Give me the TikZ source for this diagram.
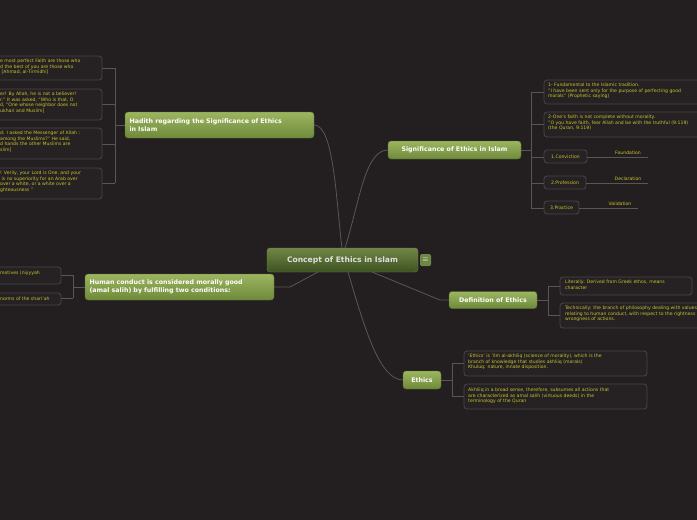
\documentclass[tikz,border=0pt]{standalone}
\usepackage{fontspec}
\setmainfont{DejaVu Sans}
\definecolor{bg}{HTML}{231F20}
\definecolor{leafbg}{HTML}{262223}
\definecolor{leafln}{HTML}{4A4647}
\definecolor{ltxt}{HTML}{C9C52E}
\definecolor{gtop}{HTML}{9CB560}
\definecolor{gbot}{HTML}{6E8A3A}
\definecolor{ctop}{HTML}{6F8745}
\definecolor{cbot}{HTML}{3E5222}
\definecolor{conn}{HTML}{5A5657}
\begin{document}
\begin{tikzpicture}[x=1pt,y=-1pt,
  main/.style={rounded corners=3pt,top color=gtop,bottom color=gbot,draw=gbot!80!black,text=white,font=\fontsize{6.3}{7.5}\selectfont\bfseries,align=left,inner sep=0pt},
  leaf/.style={rounded corners=3pt,fill=leafbg,draw=leafln,line width=0.8pt},
  ltext/.style={text=ltxt,font=\fontsize{4.6}{5.6}\selectfont,align=left,anchor=north west,inner sep=0pt},
  cn/.style={draw=conn,line width=0.8pt}]
\fill[bg] (0,0) rectangle (697,520);
\useasboundingbox (0,0) rectangle (697,520);
% connectors from central
\draw[cn] (345,248) .. controls (360,200) and (365,150) .. (388,150);
\draw[cn] (342,248) .. controls (336,200) and (334,125) .. (314,125);
\draw[cn] (318,272) -- (290,287) -- (274,287);
\draw[cn] (372,272) -- (440,300) -- (449,300);
\draw[cn] (348,272) .. controls (365,330) and (380,380) .. (403,380);
% trunks
\draw[cn] (521,150) -- (531,150) (531,92) -- (531,208);
\foreach \y in {92,124,157,183,208} \draw[cn] (531,\y) -- (544,\y);
\draw[cn] (125,125) -- (115,125) (115,68) -- (115,183);
\foreach \y in {68,104,144,183} \draw[cn] (115,\y) -- (102,\y);
\draw[cn] (85,287) -- (73,287) (73,275) -- (73,298);
\foreach \y in {275,298} \draw[cn] (73,\y) -- (61,\y);
\draw[cn] (537,300) -- (548,300) (548,286) -- (548,315);
\foreach \y in {286,315} \draw[cn] (548,\y) -- (560,\y);
\draw[cn] (441,380) -- (452,380) (452,363) -- (452,396);
\foreach \y in {363,396} \draw[cn] (452,\y) -- (464,\y);
% central
\node[rounded corners=3pt,top color=ctop,bottom color=cbot,draw=ctop,minimum width=151pt,minimum height=24pt,text=white!88!black,font=\fontsize{7.6}{9}\selectfont\bfseries] (c) at (342.5,260) {Concept of Ethics in Islam};
\node[rounded corners=1.5pt,fill=ctop,minimum width=11pt,minimum height=12pt,inner sep=0pt,text=white,font=\fontsize{7}{7}\selectfont] (ic) at (425.5,260) {$\equiv$};
% main branches
\node[main,minimum width=133pt,minimum height=18pt,align=center] (s) at (454.5,150) {Significance of Ethics in Islam};
\node[main,minimum width=189pt,minimum height=26pt,text width=180pt] (h) at (219.5,125) {Hadith regarding the Significance of Ethics\\in Islam};
\node[main,minimum width=189pt,minimum height=26pt,text width=180pt] (hc) at (179.5,287) {Human conduct is considered morally good\\(amal salih) by fulfilling two conditions:};
\node[main,minimum width=88pt,minimum height=17pt,align=center] (d) at (493,300) {Definition of Ethics};
\node[main,minimum width=38pt,minimum height=18pt,align=center] (e) at (422,380) {Ethics};
% significance leaves
\draw[leaf] (544,80) rectangle (705,104); \node[ltext] (s1) at (548,83) {1- Fundamental to the Islamic tradition.\\"I have been sent only for the purpose of perfecting good\\morals" (Prophetic saying)};
\draw[leaf] (544,112) rectangle (705,137); \node[ltext] (s2) at (548,115) {2-One's faith is not complete without morality.\\"O you have faith, fear Allah and be with the truthful (9:119)\\(the Quran, 9:119)};
\draw[leaf] (544,150) rectangle (587,163); \node[ltext,anchor=center] (s3) at (565.5,157) {1.Conviction};
\draw[leaf] (544,176) rectangle (586,189); \node[ltext,anchor=center] (s4) at (565,183) {2.Profession};
\draw[leaf] (544,201) rectangle (579,214); \node[ltext,anchor=center] (s5) at (561.5,208) {3.Practice};
\draw[cn] (587,157) -- (648,157) (586,183) -- (648,183) (579,208) -- (638,208);
\node[ltext,anchor=south] (f1) at (628,155) {Foundation};
\node[ltext,anchor=south] (f2) at (628,181) {Declaration};
\node[ltext,anchor=south] (f3) at (620,206) {Validation};
% hadith leaves
\draw[leaf] (-10,56) rectangle (102,80); \node[ltext] (h1) at (0,59) {e most perfect Faith are those who\\d the best of you are those who\\{} {[}Ahmad, al-Tirmidhi{]}};
\draw[leaf] (-10,89) rectangle (102,120); \node[ltext] (h2) at (0,92) {er! By Allah, he is not a believer!\\r." It was asked, "Who is that, O\\d, "One whose neighbor does not\\ukhari and Muslim{]}};
\draw[leaf] (-10,128) rectangle (102,159); \node[ltext] (h3) at (0,131) {d: I asked the Messenger of Allah :\\among the Muslims?" He said,\\d hands the other Muslims are\\slim{]}};
\draw[leaf] (-10,168) rectangle (102,199); \node[ltext] (h4) at (0,171) {! Verily, your Lord is One, and your\\{} is no superiority for an Arab over\\over a white, or a white over a\\ghteousness "};
% human conduct leaves
\draw[leaf] (-10,267) rectangle (61,284); \node[ltext] (u1) at (0,271) {motives (niyyyah};
\draw[leaf] (-10,293) rectangle (61,305); \node[ltext] (u2) at (0,297) {norms of the shari'ah};
% definition leaves
\draw[leaf] (560,277) rectangle (692,295); \node[ltext] (d1) at (565,280) {Literally: Derived from Greek ethos, means\\character};
\draw[leaf] (560,303) rectangle (705,328); \node[ltext] (d2) at (565,306) {Technically: the branch of philosophy dealing with values\\relating to human conduct, with respect to the rightness and\\wrongness of actions.};
% ethics leaves
\draw[leaf] (464,351) rectangle (647,376); \node[ltext] (e1) at (468,354) {'Ethics' is 'ilm al-akhliiq (science of morality), which is the\\branch of knowledge that studies akhliiq (morals)\\Khuluq: nature, innate disposition.};
\draw[leaf] (464,384) rectangle (647,409); \node[ltext] (e2) at (468,388) {Akhliiq in a broad sense, therefore, subsumes all actions that\\are characterized as amal salih (virtuous deeds) in the\\terminology of the Quran};
\end{tikzpicture}
\end{document}
